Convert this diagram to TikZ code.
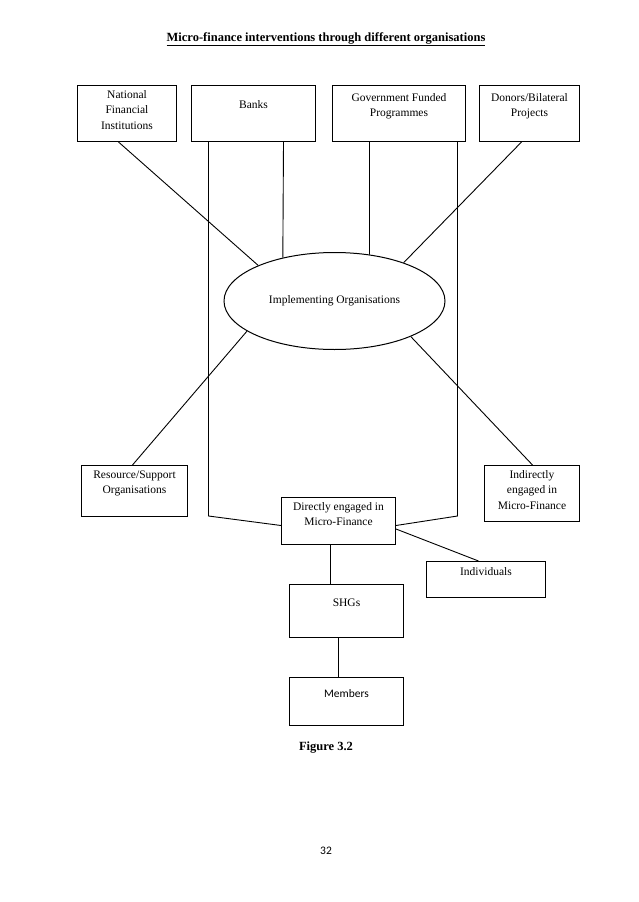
\documentclass[tikz,border=0pt]{standalone}
\usepackage{fontspec}
\setmainfont{Liberation Serif}
\newfontfamily\bodysans{Carlito}
\usetikzlibrary{shapes.geometric}
\begin{document}
\begin{tikzpicture}[x=1pt,y=-1pt,line width=1pt,
  box/.style={draw,rectangle,anchor=north west,inner sep=0pt},
  txt/.style={anchor=north,align=center,inner sep=0pt,font=\fontsize{11.5}{15.5}\selectfont},
  link/.style={draw,line width=0.9pt}]
\useasboundingbox (0,0) rectangle (638,902);
% title
\node[font=\fontsize{12.5}{15}\selectfont\bfseries] (title) at (326,39) {\underline{Micro-finance interventions through different organisations}};
% upper boxes
\node[box,minimum width=99pt,minimum height=56pt] (nfi) at (77,85) {};
\node[txt] (nfit) at ([yshift=-5pt]nfi.north) {National\\Financial\\Institutions};
\node[box,minimum width=124pt,minimum height=56pt] (bank) at (191,85) {};
\node[txt] (bankt) at ([yshift=-15pt]bank.north) {Banks};
\node[box,minimum width=133pt,minimum height=56pt] (gfp) at (332,85) {};
\node[txt] (gfpt) at ([yshift=-8pt]gfp.north) {Government Funded\\Programmes};
\node[box,minimum width=100pt,minimum height=56pt] (don) at (479,85) {};
\node[txt] (dont) at ([yshift=-8pt]don.north) {Donors/Bilateral\\Projects};
% centre
\node[draw,ellipse,minimum width=221pt,minimum height=97pt,inner sep=0pt,font=\fontsize{11.5}{15.5}\selectfont] (impl) at (334.5,301) {Implementing Organisations};
% lower boxes
\node[box,minimum width=106pt,minimum height=51pt] (res) at (81,465) {};
\node[txt] (rest) at ([yshift=-5pt]res.north) {Resource/Support\\Organisations};
\node[box,minimum width=95pt,minimum height=56pt] (ind) at (484,465) {};
\node[txt] (indt) at ([yshift=-5pt]ind.north) {Indirectly\\engaged in\\Micro-Finance};
\node[box,minimum width=114pt,minimum height=47pt] (dir) at (281,497) {};
\node[txt] (dirt) at ([yshift=-5pt]dir.north) {Directly engaged in\\Micro-Finance};
\node[box,minimum width=119pt,minimum height=36pt] (indv) at (426,561) {};
\node[txt] (indvt) at ([yshift=-6pt]indv.north) {Individuals};
\node[box,minimum width=114pt,minimum height=53pt] (shg) at (289,584) {};
\node[txt] (shgt) at ([yshift=-14pt]shg.north) {SHGs};
\node[box,minimum width=114pt,minimum height=48pt] (mem) at (289,677) {};
\node[txt,font=\bodysans\fontsize{11.5}{14}\selectfont] (memt) at ([yshift=-12pt]mem.north) {Members};
% captions
\node[font=\fontsize{12.5}{15}\selectfont\bfseries] (fig) at (326,748) {Figure 3.2};
\node[font=\bodysans\fontsize{11.5}{14}\selectfont] (page) at (326,851) {32};
% connectors
\coordinate (bl) at ([xshift=-45pt]bank.south |- 0,516);
\coordinate (gr) at ([xshift=58.5pt]gfp.south |- 0,516);
\draw[link] ([xshift=-8.5pt]nfi.south) -- (impl.155);
\draw[link] ([xshift=30pt]bank.south) -- (impl.140.2);
\draw[link] ([xshift=-29.5pt]gfp.south) -- (impl.53.2);
\draw[link] ([xshift=-8pt]don.south) -- (impl.29.3);
\draw[link] ([xshift=-2pt]res.north) -- (impl.199.6);
\draw[link] ([xshift=0.5pt]ind.north) -- (impl.335.9);
\draw[link] ([xshift=-45pt]bank.south) -- (bl) -- ([yshift=-4.5pt]dir.west);
\draw[link] ([xshift=58.5pt]gfp.south) -- (gr) -- ([yshift=-4.5pt]dir.east);
\draw[link] ([yshift=-8pt]dir.east) -- ([xshift=-7.5pt]indv.north);
\draw[link] ([xshift=-8pt]dir.south) -- ([xshift=-8pt]dir.south |- shg.north);
\draw[link] ([xshift=-8pt]shg.south) -- ([xshift=-8pt]shg.south |- mem.north);
\end{tikzpicture}
\end{document}
